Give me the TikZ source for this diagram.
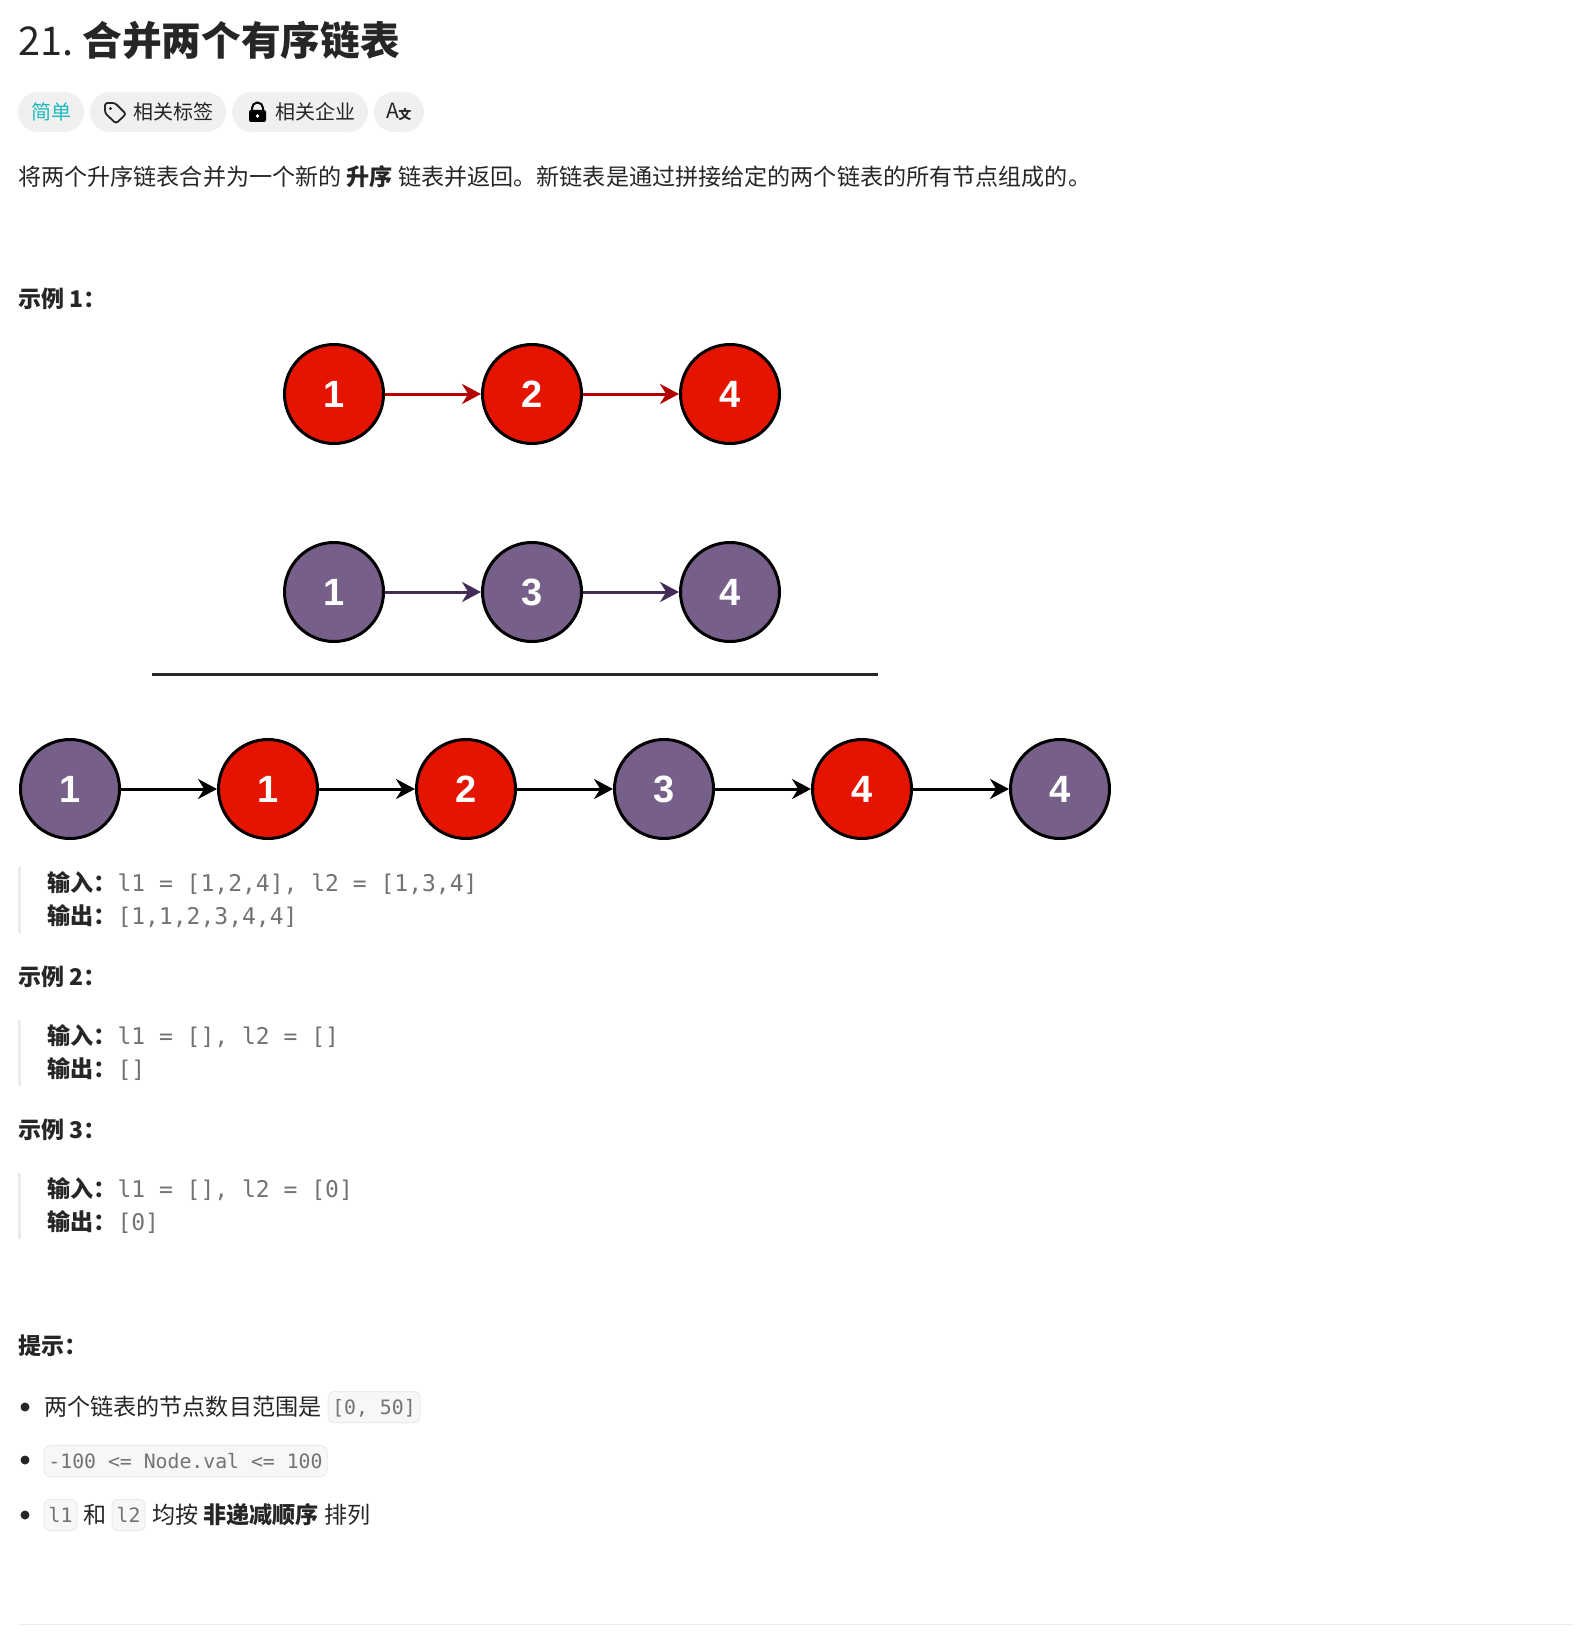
\documentclass[tikz,border=0pt]{standalone}
\usepackage{xcolor}
\usepackage{fontspec}
\setmainfont{Noto Sans CJK SC}
\newfontfamily\codefont{DejaVu Sans Mono}
\newfontfamily\digitfont{Liberation Sans}
\usetikzlibrary{positioning,arrows.meta}

\definecolor{listred}{HTML}{E51400}
\definecolor{listpurple}{HTML}{76608A}
\definecolor{edgered}{HTML}{B20000}
\definecolor{edgepurple}{HTML}{432D57}
\definecolor{pillgray}{HTML}{F0F0F0}
\definecolor{chipgray}{HTML}{F7F7F8}
\definecolor{chipline}{HTML}{EBEBEB}
\definecolor{inktext}{HTML}{262626}
\definecolor{codetext}{HTML}{737373}
\definecolor{easyteal}{HTML}{1CBABA}

\newcommand{\px}[1]{\fontsize{#1}{#1}\selectfont}
\newcommand{\codepart}[1]{\kern1pt{\codefont\color{codetext}\px{23}#1}}

\tikzset{
	listnode/.style={circle,draw=black,line width=3pt,minimum size=99pt,inner sep=0pt,text=white,font=\digitfont\bfseries\px{38}},
	rednode/.style={listnode,fill=listred},
	purplenode/.style={listnode,fill=listpurple},
	redlink/.style={->,draw=edgered,line width=3pt},
	purplelink/.style={->,draw=edgepurple,line width=3pt},
	blacklink/.style={->,draw=black,line width=3pt},
	bodytext/.style={anchor=west,inner sep=0pt,text=inktext,text height=19.5pt,text depth=3.5pt,font=\px{23.1}},
	headtext/.style={bodytext,font=\bfseries\px{23}},
	pill/.style={rounded corners=20pt,fill=pillgray,minimum height=40pt,inner sep=0pt,text=inktext,font=\px{20}},
	chip/.style={rounded corners=6pt,draw=chipline,fill=chipgray,line width=1pt,minimum height=31pt,inner sep=0pt,text=codetext,text height=14.5pt,text depth=0pt,font=\codefont\px{19.8}},
	quotebar/.style={draw=chipline,line width=3pt},
	dot/.style={circle,fill=inktext,inner sep=0pt,minimum size=9pt}
}

\begin{document}
\begin{tikzpicture}[x=1pt,y=-1pt,>={Stealth[length=19pt,width=20pt]},node distance=96pt]
	\useasboundingbox (0,0) rectangle (1574,1643);

	% title and tags
	\node[bodytext,text height=33pt,text depth=5.5pt,font=\px{39.7}] (title) at (18,42) {21.\kern9pt\textbf{合并两个有序链表}};
	\node[pill,minimum width=66pt,text=easyteal] (easy) at (51,112) {\raisebox{-1pt}{简单}};
	\node[pill,minimum width=136pt] (tags) at (158,112) {\hspace{31pt}\raisebox{-1pt}{相关标签}};
	\node[pill,minimum width=136pt] (firms) at (300,112) {\hspace{31pt}\raisebox{-1pt}{相关企业}};
	\node[pill,minimum width=50pt,font=\px{21}] (lang) at (399,112) {A\kern-1pt\raisebox{-1pt}{\px{13}\bfseries 文}};
	\draw[inktext,line width=1.8pt,rounded corners=2.5pt] (105,103) -- (115,103) -- (126,114) -- (116,123.5) -- (105,113) -- cycle;
	\fill[inktext] (110.5,108.5) circle (1.6pt);
	\draw[black,line width=2pt] (252,111) -- (252,108) arc[start angle=180,end angle=0,radius=5.5pt] -- (263,111);
	\fill[black,rounded corners=2pt] (249,110) rectangle (266,122);
	\fill[white] (257.5,116) circle (1.8pt);
	\node[bodytext] (intro) at (18,177) {将两个升序链表合并为一个新的 \textbf{升序} 链表并返回。新链表是通过拼接给定的两个链表的所有节点组成的。};

	% example 1
	\node[headtext] (head1) at (18,299) {示例 1：};

	\node[rednode] (a1) at (334,394) {1};
	\node[rednode,right=of a1] (a2) {2};
	\node[rednode,right=of a2] (a4) {4};
	\path (a1) edge[redlink] (a2);
	\path (a2) edge[redlink] (a4);

	\node[purplenode] (b1) at (334,592) {1};
	\node[purplenode,right=of b1] (b3) {3};
	\node[purplenode,right=of b3] (b4) {4};
	\path (b1) edge[purplelink] (b3);
	\path (b3) edge[purplelink] (b4);

	\coordinate (ruleleft) at (152,674);
	\coordinate (ruleright) at (878,674);
	\draw[line width=3pt,draw=black!85] (ruleleft) -- (ruleright);

	\node[purplenode] (c1) at (70,789) {1};
	\node[rednode,right=of c1] (c2) {1};
	\node[rednode,right=of c2] (c3) {2};
	\node[purplenode,right=of c3] (c4) {3};
	\node[rednode,right=of c4] (c5) {4};
	\node[purplenode,right=of c5] (c6) {4};
	\foreach \from/\to in {c1/c2,c2/c3,c3/c4,c4/c5,c5/c6}
		\path (\from) edge[blacklink] (\to);

	\draw[quotebar] (19,867) -- (19,933);
	\node[bodytext] (in1) at (47,883) {\textbf{输入：}\codepart{l1 = [1,2,4], l2 = [1,3,4]}};
	\node[bodytext] (out1) at (47,916) {\textbf{输出：}\codepart{[1,1,2,3,4,4]}};

	% example 2
	\node[headtext] (head2) at (18,977) {示例 2：};
	\draw[quotebar] (19,1020) -- (19,1086);
	\node[bodytext] (in2) at (47,1036) {\textbf{输入：}\codepart{l1 = [], l2 = []}};
	\node[bodytext] (out2) at (47,1069) {\textbf{输出：}\codepart{[]}};

	% example 3
	\node[headtext] (head3) at (18,1130) {示例 3：};
	\draw[quotebar] (19,1173) -- (19,1239);
	\node[bodytext] (in3) at (47,1189) {\textbf{输入：}\codepart{l1 = [], l2 = [0]}};
	\node[bodytext] (out3) at (47,1222) {\textbf{输出：}\codepart{[0]}};

	% hints
	\node[headtext] (hint) at (18,1346) {提示：};
	\node[dot] (dot1) at (25,1407) {};
	\node[dot] (dot2) at (25,1460) {};
	\node[dot] (dot3) at (25,1515) {};
	\node[bodytext] (hint1) at (44,1407) {两个链表的节点数目范围是};
	\node[chip,minimum width=92pt] (chip1) at (374,1407) {[0, 50]};
	\node[chip,minimum width=283pt] (chip2) at (185.5,1461) {-100 <= Node.val <= 100};
	\node[chip,minimum width=33pt] (chip3) at (60.5,1515) {l1};
	\node[bodytext] (hint2) at (83,1515) {和};
	\node[chip,minimum width=33pt] (chip4) at (128.5,1515) {l2};
	\node[bodytext] (hint3) at (152,1515) {均按 \textbf{非递减顺序} 排列};

	\coordinate (footleft) at (18,1624);
	\coordinate (footright) at (1574,1624);
	\draw[line width=1pt,draw=chipline] (footleft) -- (footright);
\end{tikzpicture}
\end{document}
